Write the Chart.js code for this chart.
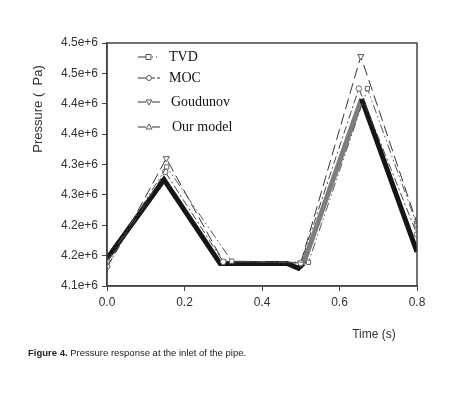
<!DOCTYPE html>
<html>
<head>
<meta charset="utf-8">
<script src="https://cdn.jsdelivr.net/npm/chart.js@4"></script>
<style>
  html, body { margin: 0; padding: 0; background: #fff; }
  #myChart { display: block; }
</style>
</head>
<body>
<canvas id="myChart" width="474" height="399"></canvas>
<script>
// time (s) and pressure (Pa)
const tvdTime = [0.0, 0.154, 0.322, 0.52, 0.672, 0.8];
const tvdPressure = [4140000, 4296000, 4141000, 4139000, 4425000, 4200000];

const mocTime = [0.0, 0.15, 0.30, 0.50, 0.650, 0.8];
const mocPressure = [4132000, 4288000, 4140000, 4138000, 4425000, 4185000];

const godTime = [0.0, 0.153, 0.30, 0.50, 0.655, 0.8];
const godPressure = [4130000, 4310000, 4140000, 4138000, 4478000, 4203000];

const ourTime = [0.0, 0.147, 0.292, 0.465, 0.48, 0.494, 0.507, 0.657, 0.8];
const ourPressure = [4145000, 4275000, 4137000, 4137000, 4133000, 4129000, 4137000, 4408000, 4156000];

const xTicks = [0.0, 0.2, 0.4, 0.6, 0.8];
const seriesNames = ['TVD', 'MOC', 'Goudunov', 'Our model'];

function pts(xs, ys) {
  return xs.map((x, i) => ({ x: x, y: ys[i] }));
}

// frame, legend, axis titles and caption
const extras = {
  id: 'extras',
  afterDraw(chart) {
    const ctx = chart.ctx;
    const a = chart.chartArea;
    ctx.save();
    ctx.strokeStyle = '#444';
    ctx.lineWidth = 1.5;
    ctx.strokeRect(a.left, a.top, a.right - a.left, a.bottom - a.top);

    // legend
    const rows = [57, 78, 102, 127];
    const textX = [169, 169, 171, 172];
    chart.data.datasets.forEach((ds, i) => {
      const y = rows[i];
      ctx.strokeStyle = '#333';
      ctx.lineWidth = 1;
      ctx.setLineDash([]);
      ctx.beginPath();
      ctx.moveTo(138, y); ctx.lineTo(146, y);
      ctx.stroke();
      if (i < 2) {
        ctx.setLineDash(i === 0 ? [1, 3] : [3, 2]);
        ctx.beginPath();
        ctx.moveTo(152, y); ctx.lineTo(160, y);
        ctx.stroke();
        ctx.setLineDash([]);
      } else {
        ctx.beginPath();
        ctx.moveTo(152, y); ctx.lineTo(160, y);
        ctx.stroke();
      }
      ctx.fillStyle = '#fff';
      ctx.strokeStyle = '#555';
      ctx.beginPath();
      if (i === 0) {
        ctx.rect(146, y - 2.5, 5, 5);
      } else if (i === 1) {
        ctx.arc(149, y, 2.5, 0, Math.PI * 2);
      } else if (i === 2) {
        ctx.moveTo(146, y - 2); ctx.lineTo(152, y - 2); ctx.lineTo(149, y + 3); ctx.closePath();
      } else {
        ctx.moveTo(146, y + 2); ctx.lineTo(152, y + 2); ctx.lineTo(149, y - 3); ctx.closePath();
      }
      ctx.fill();
      ctx.stroke();
      ctx.fillStyle = '#111';
      ctx.font = '14px "Liberation Serif", serif';
      ctx.textBaseline = 'middle';
      ctx.textAlign = 'left';
      ctx.fillText(seriesNames[i], textX[i], y);
    });

    // axis titles
    ctx.fillStyle = '#333';
    ctx.font = '13px "Liberation Sans", sans-serif';
    ctx.textAlign = 'center';
    ctx.textBaseline = 'middle';
    ctx.save();
    ctx.translate(38, 109);
    ctx.rotate(-Math.PI / 2);
    ctx.fillText('Pressure (  Pa)', 0, 0);
    ctx.restore();
    ctx.font = '12px "Liberation Sans", sans-serif';
    ctx.fillText('Time (s)', 374, 335);

    // caption
    ctx.textAlign = 'left';
    ctx.fillStyle = '#222';
    ctx.font = 'bold 9.5px "Liberation Sans", sans-serif';
    const lead = 'Figure 4.';
    ctx.fillText(lead, 28, 353);
    const w = ctx.measureText(lead + ' ').width;
    ctx.font = '9.5px "Liberation Sans", sans-serif';
    ctx.fillText('Pressure response at the inlet of the pipe.', 28 + w, 353);
    ctx.restore();
  }
};

const ctx = document.getElementById('myChart').getContext('2d');
const myChart = new Chart(ctx, {
  type: 'line',
  data: {
    datasets: [
      {
        label: 'TVD',
        data: pts(tvdTime, tvdPressure),
        borderColor: '#555',
        borderWidth: 1,
        borderDash: [9, 3, 1.5, 3, 1.5, 3],
        pointStyle: 'rect',
        pointRadius: 3,
        pointBackgroundColor: '#fff',
        pointBorderColor: '#666',
        pointBorderWidth: 1
      },
      {
        label: 'MOC',
        data: pts(mocTime, mocPressure),
        borderColor: '#444',
        borderWidth: 1,
        borderDash: [8, 3, 2, 3],
        pointStyle: 'circle',
        pointRadius: 2.8,
        pointBackgroundColor: '#fff',
        pointBorderColor: '#666',
        pointBorderWidth: 1
      },
      {
        label: 'Goudunov',
        data: pts(godTime, godPressure),
        borderColor: '#333',
        borderWidth: 1,
        borderDash: [11, 5],
        pointStyle: 'triangle',
        rotation: 180,
        pointRadius: 3.5,
        pointBackgroundColor: '#fff',
        pointBorderColor: '#555',
        pointBorderWidth: 1
      },
      {
        label: 'Our model',
        data: pts(ourTime, ourPressure),
        borderColor: '#151515',
        borderWidth: 5,
        pointRadius: 0,
        segment: {
          borderColor: c => (c.p0DataIndex === 6 ? '#7d7d7d' : '#151515')
        }
      }
    ]
  },
  options: {
    responsive: false,
    animation: false,
    layout: { padding: { left: 0, top: 43, right: 57, bottom: 0 } },
    plugins: {
      legend: { display: false },
      tooltip: { enabled: false }
    },
    scales: {
      x: {
        type: 'linear',
        min: 0,
        max: 0.8,
        afterFit: s => { s.height = 113; },
        afterBuildTicks: s => { s.ticks = xTicks.map(v => ({ value: v })); },
        border: { display: true, color: '#444', width: 1.5 },
        grid: { drawOnChartArea: false, drawTicks: true, tickLength: 5, color: '#444' },
        ticks: {
          padding: 4,
          color: '#333',
          font: { family: '"Liberation Sans", sans-serif', size: 12 },
          callback: v => Number(v).toFixed(1)
        }
      },
      y: {
        min: 4100000,
        max: 4500000,
        afterFit: s => { s.width = 107; },
        border: { display: true, color: '#444', width: 1.5 },
        grid: { drawOnChartArea: false, drawTicks: true, tickLength: 5, color: '#444' },
        ticks: {
          stepSize: 50000,
          padding: 4,
          color: '#333',
          font: { family: '"Liberation Sans", sans-serif', size: 12 },
          callback: v => Math.round(v).toExponential(1)
        }
      }
    }
  },
  plugins: [extras]
});
</script>
</body>
</html>
